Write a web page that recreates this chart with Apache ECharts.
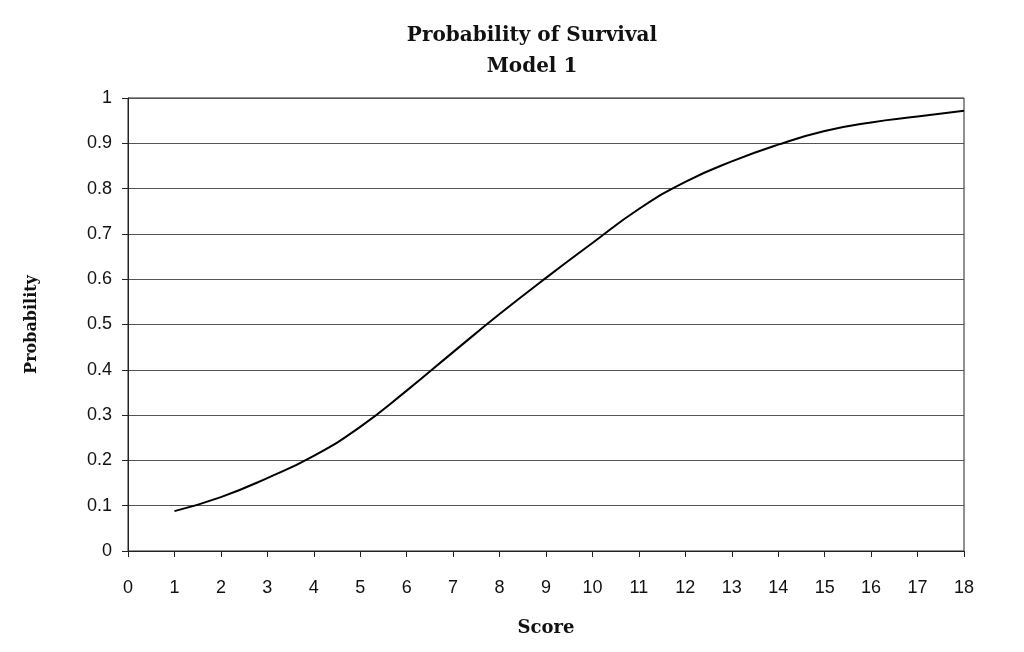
<!DOCTYPE html>
<html>
<head>
<meta charset="utf-8">
<script src="https://cdn.jsdelivr.net/npm/echarts@6/dist/echarts.min.js"></script>
<style>
  html, body { margin: 0; padding: 0; background: #fff; }
  #chart { width: 1024px; height: 652px; }
</style>
</head>
<body>
<div id="chart"></div>
<script>
// values
var scores = [1, 2, 3, 4, 5, 6, 7, 8, 9, 10, 11, 12, 13, 14, 15, 16, 17, 18];
var probability = [0.088, 0.119, 0.161, 0.21, 0.274, 0.354, 0.439, 0.523, 0.603, 0.68, 0.755, 0.815, 0.86, 0.897, 0.927, 0.946, 0.959, 0.972];

var chart = echarts.init(document.getElementById("chart"));
var serif = "DejaVu Serif";
var sans = "Liberation Sans";

var option = {
  backgroundColor: "#fff",
  animation: false,
  title: {
    text: "Probability of Survival\nModel 1",
    left: 527,
    textAlign: "center",
    top: 15,
    textStyle: {
      fontFamily: serif,
      fontWeight: "bold",
      fontSize: 20,
      lineHeight: 31,
      color: "#111",
    },
  },
  grid: {
    left: 128,
    right: 60,
    top: 98,
    bottom: 101,
    show: true,
    borderColor: "#222",
    borderWidth: 1,
  },
  xAxis: {
    type: "value",
    min: 0,
    max: 18,
    interval: 1,
    name: "Score",
    nameLocation: "middle",
    nameGap: 68,
    nameTextStyle: {
      fontFamily: serif,
      fontWeight: "bold",
      fontSize: 18,
      color: "#111",
    },
    axisLine: { show: true, lineStyle: { color: "#222" } },
    axisTick: { show: true, length: 6, inside: false, lineStyle: { color: "#222" } },
    axisLabel: { fontFamily: sans, fontSize: 18, color: "#111", margin: 28 },
    splitLine: { show: false },
  },
  yAxis: {
    type: "value",
    min: 0,
    max: 1,
    interval: 0.1,
    name: "Probability",
    nameLocation: "middle",
    nameGap: 88,
    nameRotate: 90,
    nameTextStyle: {
      fontFamily: serif,
      fontWeight: "bold",
      fontSize: 16,
      color: "#111",
    },
    axisLine: { show: true, lineStyle: { color: "#222" } },
    axisTick: { show: true, length: 6, lineStyle: { color: "#222" } },
    axisLabel: { fontFamily: sans, fontSize: 18, color: "#111", margin: 16 },
    splitLine: { show: true, lineStyle: { color: "#555", width: 1 } },
  },
  series: [
    {
      type: "line",
      data: scores.map(function (s, i) {
        return [s, probability[i]];
      }),
      smooth: true,
      showSymbol: false,
      lineStyle: { color: "#000", width: 2 },
    },
  ],
};

option && chart.setOption(option);
</script>
</body>
</html>
